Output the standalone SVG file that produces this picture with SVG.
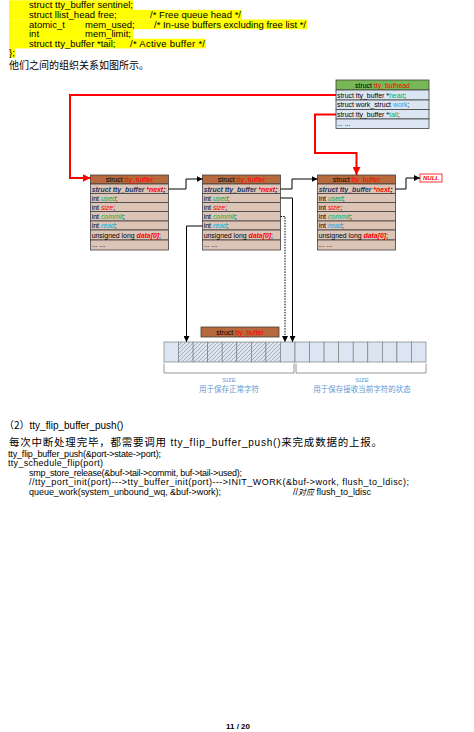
<svg xmlns="http://www.w3.org/2000/svg" width="474" height="732" viewBox="0 0 474 732">
<style>
text{font-family:"Liberation Sans",Arial,sans-serif;fill:#000}
.cjk{font-family:"Noto Sans CJK SC",sans-serif}
.code{font-size:9.5px}
.code2{font-size:9px}
.hl{fill:#ffff00}
.bt{font-size:6.9px}
.bi{font-weight:bold;font-style:italic}
.it{font-style:italic}
.r{fill:#ff0000}
.hb{fill:#b5693c;stroke:#404040;stroke-width:0.8}
.rb{fill:#dcc4b6;stroke:#404040;stroke-width:0.8}
.hg{fill:#77b756;stroke:#404040;stroke-width:0.8}
.rw{fill:#dce6f2;stroke:#404040;stroke-width:0.8}
.cell{fill:#dce6f2;stroke:#7f7f7f;stroke-width:0.7}
.hat{fill:url(#hatch);stroke:#7f7f7f;stroke-width:0.7}
.red{fill:none;stroke:#ff0000;stroke-width:2}
.blk{fill:none;stroke:#000;stroke-width:1}
.brk{fill:none;stroke:#7f7f7f;stroke-width:0.8}
.lbl{fill:#5b9bd5}
</style>
<defs>
<marker id="ab" viewBox="0 0 8 8" refX="8" refY="4" markerWidth="6" markerHeight="6" orient="auto" markerUnits="userSpaceOnUse"><path d="M0,0 L8,4 L0,8 z" fill="#000"/></marker>
<marker id="ar" viewBox="0 0 8 8" refX="8" refY="4" markerWidth="8" markerHeight="8" orient="auto" markerUnits="userSpaceOnUse"><path d="M0,0 L8,4 L0,8 z" fill="#ff0000"/></marker>
<pattern id="hatch" width="4" height="4" patternUnits="userSpaceOnUse">
<rect width="4" height="4" fill="#dce6f2"/>
<path d="M-1,1 L1,-1 M0,4 L4,0 M3,5 L5,3" stroke="#8c8c8c" stroke-width="0.6"/>
</pattern>
</defs>

<!-- highlighted code text -->
<g id="code-top">
<rect class="hl" x="9" y="0.3" width="124" height="9.7"/>
<rect class="hl" x="9" y="9.9" width="233" height="9.7"/>
<rect class="hl" x="9" y="19.5" width="298" height="9.7"/>
<rect class="hl" x="9" y="29.1" width="124" height="9.7"/>
<rect class="hl" x="9" y="38.7" width="197" height="9.7"/>
<rect class="hl" x="9" y="48.3" width="6.5" height="9.6"/>
<text class="code" x="29" y="8.4" textLength="104">struct tty_buffer sentinel;</text>
<text class="code" x="29" y="18">struct llist_head free;</text>
<text class="code" x="150" y="18" textLength="91">/* Free queue head */</text>
<text class="code" x="29" y="27.6">atomic_t</text>
<text class="code" x="85" y="27.6">mem_used;</text>
<text class="code" x="154" y="27.6" textLength="152">/* In-use buffers excluding free list */</text>
<text class="code" x="29" y="37.2">int</text>
<text class="code" x="85" y="37.2">mem_limit;</text>
<text class="code" x="29" y="46.8">struct tty_buffer *tail;</text>
<text class="code" x="130" y="46.8" textLength="75">/* Active buffer */</text>
<text class="code" x="9" y="56.4">};</text>
<text class="cjk" x="9" y="69" font-size="10" textLength="140">他们之间的组织关系如图所示。</text>
</g>

<!-- tty_bufhead -->
<g id="bufhead" transform="translate(336,0)">
<rect class="hg" x="0" y="80" width="93" height="10"/>
<rect class="rw" x="0" y="90" width="93" height="10"/>
<rect class="rw" x="0" y="100" width="93" height="9.5"/>
<rect class="rw" x="0" y="109.5" width="93" height="9.5"/>
<rect class="rw" x="0" y="119" width="93" height="9.5"/>
<text class="bt" x="46.5" y="87.5" text-anchor="middle">struct <tspan class="r">tty_bufhead</tspan></text>
<text class="bt" x="1" y="97.5">struct tty_buffer *<tspan fill="#00b050">head</tspan>;</text>
<text class="bt" x="1" y="107">struct work_struct <tspan fill="#00b0f0">work</tspan>;</text>
<text class="bt" x="1" y="116.5">struct tty_buffer *<tspan fill="#00b050">tail</tspan>;</text>
<text class="bt" x="1" y="126">... ...</text>
</g>

<!-- tty_buffer 1 -->
<g id="buf1" transform="translate(90.5,0)">
<rect class="hb" x="0" y="175" width="78" height="9"/>
<rect class="rb" x="0" y="184" width="78" height="9.5"/>
<rect class="rb" x="0" y="193.5" width="78" height="9"/>
<rect class="rb" x="0" y="202.5" width="78" height="9"/>
<rect class="rb" x="0" y="211.5" width="78" height="9.5"/>
<rect class="rb" x="0" y="221" width="78" height="9"/>
<rect class="rb" x="0" y="230" width="78" height="10"/>
<rect class="rb" x="0" y="240" width="78" height="10"/>
<text class="bt" x="39" y="182" text-anchor="middle">struct <tspan class="r">tty_buffer</tspan></text>
<text class="bt bi" x="1.2" y="191.5"><tspan fill="#1f3864">struct tty_buffer </tspan><tspan class="r">*next</tspan>;</text>
<text class="bt" x="1.2" y="200.5">int <tspan class="it" fill="#00b050">used</tspan>;</text>
<text class="bt" x="1.2" y="209.5">int <tspan class="it r">size</tspan>;</text>
<text class="bt" x="1.2" y="219">int <tspan class="it" fill="#00b050">commit</tspan>;</text>
<text class="bt" x="1.2" y="228">int <tspan class="it" fill="#00b0f0">read</tspan>;</text>
<text class="bt" x="1.2" y="237.5">unsigned long <tspan class="bi r">data[0]</tspan>;</text>
<text class="bt" x="1.2" y="247">... ...</text>
</g>

<!-- tty_buffer 2 -->
<g id="buf2" transform="translate(202.5,0)">
<rect class="hb" x="0" y="175" width="78" height="9"/>
<rect class="rb" x="0" y="184" width="78" height="9.5"/>
<rect class="rb" x="0" y="193.5" width="78" height="9"/>
<rect class="rb" x="0" y="202.5" width="78" height="9"/>
<rect class="rb" x="0" y="211.5" width="78" height="9.5"/>
<rect class="rb" x="0" y="221" width="78" height="9"/>
<rect class="rb" x="0" y="230" width="78" height="10"/>
<rect class="rb" x="0" y="240" width="78" height="10"/>
<text class="bt" x="39" y="182" text-anchor="middle">struct <tspan class="r">tty_buffer</tspan></text>
<text class="bt bi" x="1.2" y="191.5"><tspan fill="#1f3864">struct tty_buffer </tspan><tspan class="r">*next</tspan>;</text>
<text class="bt" x="1.2" y="200.5">int <tspan class="it" fill="#00b050">used</tspan>;</text>
<text class="bt" x="1.2" y="209.5">int <tspan class="it r">size</tspan>;</text>
<text class="bt" x="1.2" y="219">int <tspan class="it" fill="#00b050">commit</tspan>;</text>
<text class="bt" x="1.2" y="228">int <tspan class="it" fill="#00b0f0">read</tspan>;</text>
<text class="bt" x="1.2" y="237.5">unsigned long <tspan class="bi r">data[0]</tspan>;</text>
<text class="bt" x="1.2" y="247">... ...</text>
</g>

<!-- tty_buffer 3 -->
<g id="buf3" transform="translate(317.5,0)">
<rect class="hb" x="0" y="175" width="78" height="9"/>
<rect class="rb" x="0" y="184" width="78" height="9.5"/>
<rect class="rb" x="0" y="193.5" width="78" height="9"/>
<rect class="rb" x="0" y="202.5" width="78" height="9"/>
<rect class="rb" x="0" y="211.5" width="78" height="9.5"/>
<rect class="rb" x="0" y="221" width="78" height="9"/>
<rect class="rb" x="0" y="230" width="78" height="10"/>
<rect class="rb" x="0" y="240" width="78" height="10"/>
<text class="bt" x="39" y="182" text-anchor="middle">struct <tspan class="r">tty_buffer</tspan></text>
<text class="bt bi" x="1.2" y="191.5"><tspan fill="#1f3864">struct tty_buffer </tspan><tspan class="r">*next</tspan>;</text>
<text class="bt" x="1.2" y="200.5">int <tspan class="it" fill="#00b050">used</tspan>;</text>
<text class="bt" x="1.2" y="209.5">int <tspan class="it r">size</tspan>;</text>
<text class="bt" x="1.2" y="219">int <tspan class="it" fill="#00b050">commit</tspan>;</text>
<text class="bt" x="1.2" y="228">int <tspan class="it" fill="#00b0f0">read</tspan>;</text>
<text class="bt" x="1.2" y="237.5">unsigned long <tspan class="bi r">data[0]</tspan>;</text>
<text class="bt" x="1.2" y="247">... ...</text>
</g>

<!-- NULL -->
<g id="null">
<rect x="420" y="174" width="22" height="8" fill="#fff" stroke="#ff0000" stroke-width="0.8"/>
<text class="bi r" x="431" y="180.3" font-size="6" text-anchor="middle">NULL</text>
</g>

<!-- buffer area -->
<g id="data-buffer">
<rect class="hb" x="201" y="327" width="78" height="10"/>
<text class="bt" x="240" y="334.5" text-anchor="middle">struct <tspan class="r">tty_buffer</tspan></text>
<rect class="cell" x="164" y="342" width="14.56" height="20"/>
<rect class="hat" x="178.56" y="342" width="14.56" height="20"/>
<rect class="hat" x="193.11" y="342" width="14.56" height="20"/>
<rect class="hat" x="207.67" y="342" width="14.56" height="20"/>
<rect class="hat" x="222.22" y="342" width="14.56" height="20"/>
<rect class="hat" x="236.78" y="342" width="14.56" height="20"/>
<rect class="hat" x="251.33" y="342" width="14.56" height="20"/>
<rect class="hat" x="265.89" y="342" width="14.56" height="20"/>
<rect class="cell" x="280.44" y="342" width="14.56" height="20"/>
<rect class="cell" x="295" y="342" width="14.56" height="20"/>
<rect class="cell" x="309.56" y="342" width="14.56" height="20"/>
<rect class="cell" x="324.11" y="342" width="14.56" height="20"/>
<rect class="cell" x="338.67" y="342" width="14.56" height="20"/>
<rect class="cell" x="353.22" y="342" width="14.56" height="20"/>
<rect class="cell" x="367.78" y="342" width="14.56" height="20"/>
<rect class="cell" x="382.33" y="342" width="14.56" height="20"/>
<rect class="cell" x="396.89" y="342" width="14.56" height="20"/>
<rect class="cell" x="411.44" y="342" width="14.56" height="20"/>
<path class="brk" d="M164,363.5 V373 H294 V363.5"/>
<path class="brk" d="M296,363.5 V373 H426 V363.5"/>
<text class="lbl" x="229" y="382" font-size="6" text-anchor="middle">SIZE</text>
<text class="lbl cjk" x="229" y="392" font-size="7.5" text-anchor="middle">用于保存正常字符</text>
<text class="lbl" x="362" y="382" font-size="6" text-anchor="middle">SIZE</text>
<text class="lbl cjk" x="362" y="392" font-size="7.5" text-anchor="middle">用于保存接收当前字符的状态</text>
</g>

<!-- connectors -->
<g id="connectors">
<path class="red" d="M336,95 H70 V178 H90.5" marker-end="url(#ar)"/>
<path class="red" d="M336,114.5 H315 V153 H356.5 V175" marker-end="url(#ar)"/>
<path class="blk" d="M168.5,189 H186 V179 H202.5" marker-end="url(#ab)"/>
<path class="blk" d="M280.5,189 H292 V179 H317.5" marker-end="url(#ab)"/>
<path class="blk" d="M395.5,189 H406 V178 H420" marker-end="url(#ab)"/>
<path class="blk" d="M202.5,226 H186.5 V342" marker-end="url(#ab)"/>
<path class="blk" d="M280.5,198 H292.5 V342" marker-end="url(#ab)"/>
<path class="blk" d="M280.5,216.5 H285 V342" stroke-dasharray="1.5,1.2" marker-end="url(#ab)"/>
</g>

<!-- lower text -->
<g id="code-bottom">
<text class="cjk" x="4" y="428.5" font-size="10">（2）<tspan font-family="Liberation Sans, Arial, sans-serif">tty_flip_buffer_push()</tspan></text>
<text x="9" y="445.5" font-size="10" textLength="373"><tspan class="cjk" font-size="10.5">每次中断处理完毕，都需要调用</tspan> tty_flip_buffer_push()<tspan class="cjk" font-size="10.5">来完成数据的上报。</tspan></text>
<text class="code2" x="8" y="456.5" textLength="153">tty_flip_buffer_push(&amp;port-&gt;state-&gt;port);</text>
<text class="code2" x="8" y="466" textLength="95">tty_schedule_flip(port)</text>
<text class="code2" x="29" y="475.5" textLength="213">smp_store_release(&amp;buf-&gt;tail-&gt;commit, buf-&gt;tail-&gt;used);</text>
<text class="code2" x="29" y="484.5" font-size="8.4" textLength="380">//tty_port_init(port)---&gt;tty_buffer_init(port)---&gt;INIT_WORK(&amp;buf-&gt;work, flush_to_ldisc);</text>
<text class="code2" x="29" y="494.5" textLength="192">queue_work(system_unbound_wq, &amp;buf-&gt;work);</text>
<text class="code2" x="293" y="494.5">//<tspan class="cjk" font-style="italic" font-size="8">对应</tspan> flush_to_ldisc</text>
<text x="238" y="729" font-size="8" font-weight="bold" text-anchor="middle">11 / 20</text>
</g>
</svg>
